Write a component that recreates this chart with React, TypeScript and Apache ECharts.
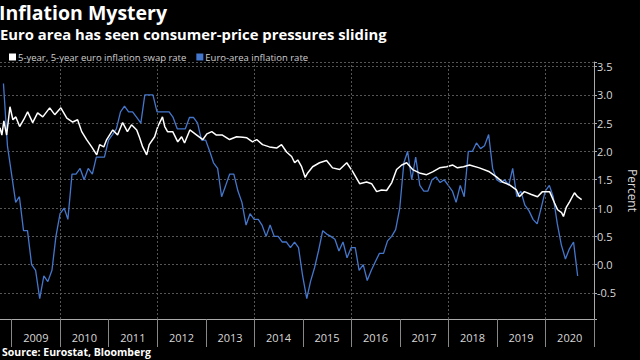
import React, { useEffect, useRef } from "react";
import * as echarts from "echarts";

// ---- Data ----
// Euro-area inflation rate (monthly, % y/y), first month Oct 2008, plotted at month end
const inflationStartYear = 2008;
const inflationStartMonth = 10;
const inflationRate = [
  3.2, 2.1, 1.6,
  1.1, 1.2, 0.6, 0.6, 0.0, -0.1, -0.6, -0.2, -0.3, -0.1, 0.5, 0.9,
  1.0, 0.8, 1.6, 1.6, 1.7, 1.5, 1.7, 1.6, 1.9, 1.9, 1.9, 2.2,
  2.3, 2.4, 2.7, 2.8, 2.7, 2.7, 2.6, 2.5, 3.0, 3.0, 3.0, 2.7,
  2.7, 2.7, 2.7, 2.6, 2.4, 2.4, 2.4, 2.6, 2.6, 2.5, 2.2, 2.2,
  2.0, 1.8, 1.7, 1.2, 1.4, 1.6, 1.6, 1.3, 1.1, 0.7, 0.9, 0.8,
  0.8, 0.7, 0.5, 0.7, 0.5, 0.5, 0.4, 0.4, 0.3, 0.4, 0.3, -0.2,
  -0.6, -0.3, -0.05, 0.25, 0.6, 0.54, 0.5, 0.45, 0.24, 0.4, 0.12, 0.3,
  0.3, -0.1, 0.0, -0.28, -0.1, 0.05, 0.2, 0.2, 0.42, 0.5, 0.62, 1.0,
  1.8, 2.0, 1.5, 1.9, 1.4, 1.3, 1.3, 1.5, 1.55, 1.45, 1.5, 1.4,
  1.3, 1.1, 1.4, 1.2, 2.0, 2.0, 2.15, 2.05, 2.1, 2.3, 1.7, 1.5,
  1.45, 1.5, 1.4, 1.7, 1.2, 1.3, 1.05, 0.95, 0.8, 0.72, 1.0, 1.3,
  1.4, 1.2, 0.72, 0.35, 0.1, 0.28, 0.4, -0.2,
];

// 5-year, 5-year euro inflation swap rate (%)
const swapDates = [
  "2008-10-05", "2008-10-19", "2008-11-03", "2008-11-24", "2008-12-19",
  "2009-01-10", "2009-02-01", "2009-03-02", "2009-04-01", "2009-05-01",
  "2009-06-08", "2009-07-15", "2009-08-23", "2009-10-14", "2009-11-21",
  "2010-01-06", "2010-02-20", "2010-04-05", "2010-05-12", "2010-06-12",
  "2010-07-19", "2010-08-26", "2010-10-03", "2010-10-25", "2010-11-25",
  "2010-12-17", "2011-02-01", "2011-03-09", "2011-04-16", "2011-05-22",
  "2011-06-22", "2011-07-31", "2011-08-22", "2011-09-14", "2011-10-14",
  "2011-11-02", "2011-12-13", "2012-01-06", "2012-02-10", "2012-02-27",
  "2012-03-19", "2012-04-27", "2012-06-04", "2012-07-03", "2012-07-25",
  "2012-09-03", "2012-10-25", "2012-12-10", "2013-01-09", "2013-02-15",
  "2013-03-22", "2013-05-06", "2013-06-29", "2013-08-21", "2013-10-06",
  "2013-11-06", "2013-12-19", "2014-01-19", "2014-03-04", "2014-04-25",
  "2014-06-18", "2014-07-25", "2014-09-01", "2014-10-09", "2014-11-01",
  "2014-11-24", "2014-12-23", "2015-01-19", "2015-02-07", "2015-03-16",
  "2015-05-07", "2015-06-29", "2015-08-13", "2015-10-06", "2015-11-28",
  "2016-01-13", "2016-03-04", "2016-04-25", "2016-06-02", "2016-07-10",
  "2016-08-16", "2016-09-23", "2016-11-01", "2016-12-07", "2017-01-15",
  "2017-02-21", "2017-04-07", "2017-05-28", "2017-07-21", "2017-09-04",
  "2017-10-27", "2017-12-19", "2018-02-03", "2018-03-10", "2018-04-25",
  "2018-06-09", "2018-08-22", "2018-11-06", "2018-12-29", "2019-02-12",
  "2019-04-06", "2019-05-28", "2019-06-19", "2019-07-27", "2019-09-18",
  "2019-11-03", "2019-12-10", "2020-02-02", "2020-03-10", "2020-04-02",
  "2020-05-02", "2020-05-16", "2020-06-06", "2020-07-01", "2020-08-07",
  "2020-08-30", "2020-09-30",
];
const swapRate = [
  2.42, 2.29, 2.54, 2.29, 2.79,
  2.56, 2.61, 2.44, 2.56, 2.70,
  2.51, 2.68, 2.61, 2.77, 2.65,
  2.77, 2.59, 2.52, 2.56, 2.35,
  2.21, 2.08, 1.94, 2.12, 2.08,
  2.21, 2.38, 2.29, 2.51, 2.35,
  2.47, 2.38, 2.24, 2.08, 1.94,
  2.12, 2.26, 2.44, 2.61, 2.44,
  2.35, 2.35, 2.17, 2.26, 2.15,
  2.38, 2.29, 2.21, 2.31, 2.35,
  2.29, 2.29, 2.21, 2.26, 2.25,
  2.24, 2.17, 2.21, 2.12, 2.08,
  2.06, 2.12, 1.99, 1.91, 1.80,
  1.85, 1.73, 1.54, 1.62, 1.73,
  1.80, 1.84, 1.71, 1.68, 1.80,
  1.64, 1.43, 1.46, 1.43, 1.29,
  1.32, 1.31, 1.45, 1.68, 1.76,
  1.80, 1.68, 1.62, 1.59, 1.64,
  1.71, 1.73, 1.76, 1.71, 1.73,
  1.76, 1.71, 1.64, 1.55, 1.46,
  1.41, 1.32, 1.20, 1.29, 1.24,
  1.20, 1.29, 1.29, 1.09, 0.97,
  0.92, 0.85, 1.01, 1.11, 1.27,
  1.20, 1.15,
];

const tickYears = [2009, 2010, 2011, 2012, 2013, 2014, 2015, 2016, 2017, 2018, 2019, 2020, 2021];
const labelYears = [2009, 2010, 2011, 2012, 2013, 2014, 2015, 2016, 2017, 2018, 2019, 2020];
const gridYears = [2010, 2012, 2014, 2016, 2018, 2020];

const seriesNames = ["5-year, 5-year euro inflation swap rate", "Euro-area inflation rate"];
const titleText = "Inflation Mystery";
const subtitleText = "Euro area has seen consumer-price pressures sliding";
const sourceText = "Source: Eurostat, Bloomberg";
const yAxisName = "Percent";

const FONT = "'Open Sans', 'DejaVu Sans', sans-serif";

const utc = (y: number, m: number, d: number) => Date.UTC(y, m, d);
const parseDay = (s: string) => {
  const [y, m, d] = s.split("-").map(Number);
  return Date.UTC(y, m - 1, d);
};

export default function App() {
  const ref = useRef<HTMLDivElement>(null);

  useEffect(() => {
    document.body.style.margin = "0";
    document.body.style.background = "#000";
    if (!ref.current) return;
    const chart = echarts.init(ref.current, undefined, { renderer: "svg" });

    const inflationData = inflationRate.map((v, i) => [
      utc(inflationStartYear, inflationStartMonth - 1 + i + 1, 0),
      v,
    ]);
    const swapData = swapDates.map((d, i) => [parseDay(d), swapRate[i]]);

    const option: any = {
      animation: false,
      backgroundColor: "#000",
      title: [
        {
          text: titleText,
          left: -1,
          top: 2,
          padding: 0,
          textStyle: { color: "#fff", fontSize: 19.5, lineHeight: 20, fontWeight: "bold", fontFamily: FONT },
        },
        {
          text: subtitleText,
          left: 0,
          top: 26,
          padding: 0,
          textStyle: { color: "#fff", fontSize: 14.8, lineHeight: 15, fontWeight: "bold", fontFamily: FONT },
        },
      ],
      legend: {
        left: 4,
        top: 47,
        icon: "rect",
        itemWidth: 7,
        itemHeight: 7,
        itemGap: 10,
        textStyle: { color: "#d0d0d0", fontSize: 9.5, fontFamily: FONT, padding: [0, 0, 0, -3] },
        data: seriesNames,
      },
      graphic: [
        {
          type: "text",
          left: 2,
          top: 346,
          style: { text: sourceText, fill: "#fff", font: `bold 10.5px ${FONT}` },
        },
      ],
      grid: { left: 0, right: 46, top: 62, bottom: 41, containLabel: false, outerBoundsMode: "none" },
      xAxis: {
        type: "value",
        min: utc(2008, 9, 5),
        max: utc(2021, 0, 1),
        axisLine: { show: true, onZero: false, lineStyle: { color: "#aaa", width: 1 } },
        axisTick: {
          show: true,
          length: 28,
          lineStyle: { color: "#888", width: 1 },
          customValues: tickYears.map((y) => utc(y, 0, 1)),
        },
        axisLabel: {
          color: "#d8d8d8",
          fontSize: 11,
          fontFamily: FONT,
          margin: 13,
          customValues: labelYears.map((y) => utc(y, 6, 2)),
          formatter: (v: number) => String(new Date(v).getUTCFullYear()),
        },
        splitLine: { show: false },
      },
      yAxis: {
        type: "value",
        position: "right",
        min: -0.96,
        max: 3.58,
        splitNumber: 9,
        axisLine: { show: true, lineStyle: { color: "#aaa", width: 1 } },
        axisTick: { show: true, length: 3, lineStyle: { color: "#aaa" } },
        axisLabel: {
          color: "#d8d8d8",
          fontSize: 11,
          fontFamily: FONT,
          margin: 3,
          formatter: (v: number) => {
            const r = Math.round(v * 10) / 10;
            if (Math.abs(r * 2 - Math.round(r * 2)) > 1e-6) return "";
            if (v < -0.9 || v > 3.55) return "";
            return r.toFixed(1);
          },
        },
        splitLine: { show: true, lineStyle: { color: "#555", type: [2, 2], width: 1 } },
        name: yAxisName,
        nameLocation: "middle",
        nameRotate: -90,
        nameGap: 29,
        nameTextStyle: { color: "#d8d8d8", fontSize: 12, fontFamily: FONT },
      },
      series: [
        {
          name: seriesNames[0],
          type: "line",
          data: swapData,
          showSymbol: false,
          symbol: "none",
          z: 3,
          color: "#ffffff",
          lineStyle: { color: "#ffffff", width: 1.5 },
        },
        {
          name: seriesNames[1],
          type: "line",
          data: inflationData,
          showSymbol: false,
          symbol: "none",
          z: 2,
          color: "#4477cc",
          lineStyle: { color: "#4477cc", width: 1.3 },
          markLine: {
            silent: true,
            symbol: "none",
            label: { show: false },
            lineStyle: { color: "#555", type: [2, 2], width: 1 },
            data: gridYears.map((y) => ({ xAxis: utc(y, 0, 1) })),
          },
        },
      ],
    };
    chart.setOption(option);
    return () => chart.dispose();
  }, []);

  return (
    <div
      ref={ref}
      style={{ position: "fixed", left: 0, top: 0, width: 640, height: 360, background: "#000" }}
    />
  );
}
